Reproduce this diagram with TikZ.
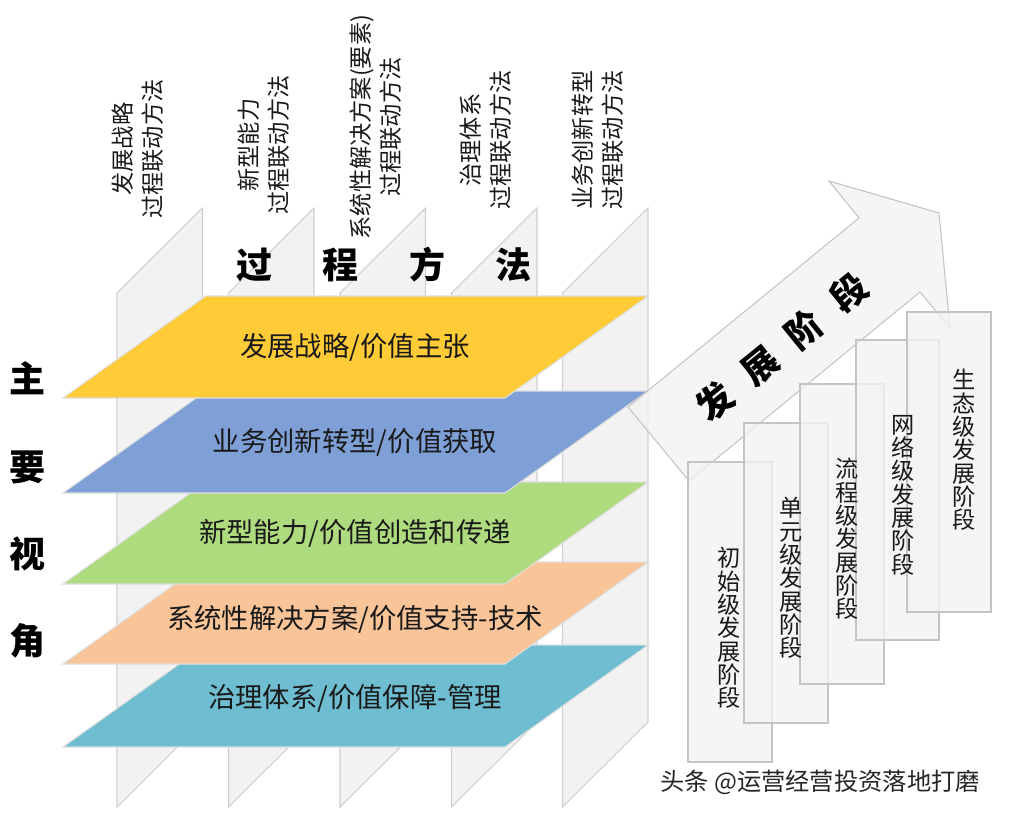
\documentclass[tikz,border=0pt]{standalone}
\usepackage{fontspec}
\setmainfont{Noto Sans CJK SC}
\usetikzlibrary{positioning}

\definecolor{planefill}{HTML}{F2F2F2}
\definecolor{planeline}{HTML}{D0D0D0}
\definecolor{boxline}{HTML}{C4C4C4}
\definecolor{strategyyellow}{HTML}{FFCB36}
\definecolor{businessblue}{HTML}{7FA0D6}
\definecolor{abilitygreen}{HTML}{AEDB7E}
\definecolor{solutionorange}{HTML}{F8C498}
\definecolor{governteal}{HTML}{6EBDD1}

\tikzset{
    plane/.style={draw=planeline, fill=planefill, line width=0.8pt},
    layer/.style={draw=planeline!70, line width=0.8pt},
    layertext/.style={inner sep=0pt, text=black!90, font=\fontsize{20.5}{24}\selectfont},
    columntext/.style={rotate=90, align=center, inner sep=0pt, text=black!90,
        font=\fontsize{17.4}{22.5}\selectfont},
    sidetext/.style={inner sep=0pt, font=\fontsize{27}{30}\selectfont\bfseries},
    stagebox/.style={draw=boxline, fill=planefill, fill opacity=0.8, line width=0.8pt},
    stagetext/.style={align=center, inner sep=0pt, text=black!90,
        font=\fontsize{17.4}{17.5}\selectfont}
}

\begin{document}
\begin{tikzpicture}[x=0.75pt, y=-0.75pt]
    \useasboundingbox (0,0) rectangle (1009,818);

    % process planes
    \draw[plane] (117,807) -- (117,293) -- (202.5,208) -- (202.5,722) -- cycle;
    \draw[plane] (228.5,807) -- (228.5,293) -- (314,208) -- (314,722) -- cycle;
    \draw[plane] (340,807) -- (340,293) -- (425.5,208) -- (425.5,722) -- cycle;
    \draw[plane] (451.5,807) -- (451.5,293) -- (537,208) -- (537,722) -- cycle;
    \draw[plane] (562.5,807) -- (562.5,293) -- (648,208) -- (648,722) -- cycle;

    % view layers, lowest first
    \draw[layer, fill=governteal] (63,747) -- (206,645) -- (648,645) -- (505,747) -- cycle;
    \draw[layer, fill=solutionorange] (63,664) -- (206,562) -- (648,562) -- (505,664) -- cycle;
    \draw[layer, fill=abilitygreen] (63,584) -- (206,482) -- (648,482) -- (505,584) -- cycle;
    \draw[layer, fill=businessblue] (63,493) -- (206,391) -- (648,391) -- (505,493) -- cycle;
    \draw[layer, fill=strategyyellow] (63,398) -- (206,296) -- (648,296) -- (505,398) -- cycle;

    \node[layertext] (strategy) at (355,347) {发展战略/价值主张};
    \node[layertext] (business) at (355,442) {业务创新转型/价值获取};
    \node[layertext] (ability) at (355,533) {新型能力/价值创造和传递};
    \node[layertext] (solution) at (355,619) {系统性解决方案/价值支持-技术};
    \node[layertext] (govern) at (355,698) {治理体系/价值保障-管理};

    % column titles
    \node[columntext] (colstrategy) at (137.5,149) {发展战略\\过程联动方法};
    \node[columntext] (colability) at (263.5,145) {新型能力\\过程联动方法};
    \node[columntext] (colsolution) at (376,127) {系统性解决方案(要素)\\过程联动方法};
    \node[columntext] (colgovern) at (486,140) {治理体系\\过程联动方法};
    \node[columntext] (colbusiness) at (598,140) {业务创新转型\\过程联动方法};

    \node[sidetext] (process) at (384,265)
        {过\hspace{38pt}程\hspace{38pt}方\hspace{38pt}法};

    % main views
    \node[sidetext] (viewa) at (27,378) {主};
    \node[sidetext] (viewb) at (27,467) {要};
    \node[sidetext] (viewc) at (27,554) {视};
    \node[sidetext] (viewd) at (27,641) {角};

    % stage arrow
    \draw[stagebox] (628,407) -- (859,218) -- (829,181) -- (939,213)
        -- (950,328) -- (920,292) -- (689,481) -- cycle;
    \node[sidetext, rotate=39] (stages) at (782,347)
        {发\hspace{16pt}展\hspace{16pt}阶\hspace{16pt}段};

    % stage boxes
    \draw[stagebox] (688,462) rectangle (772,762);
    \draw[stagebox] (744,423) rectangle (828,723);
    \draw[stagebox] (800,384) rectangle (884,684);
    \draw[stagebox] (856,340) rectangle (939,640);
    \draw[stagebox] (907,312) rectangle (991,612);

    \node[stagetext] (initial) at (729,628) {初\\始\\级\\发\\展\\阶\\段};
    \node[stagetext] (unit) at (791,578) {单\\元\\级\\发\\展\\阶\\段};
    \node[stagetext] (flow) at (847,539) {流\\程\\级\\发\\展\\阶\\段};
    \node[stagetext] (network) at (903,495) {网\\络\\级\\发\\展\\阶\\段};
    \node[stagetext] (ecology) at (964,450) {生\\态\\级\\发\\展\\阶\\段};

    \node[inner sep=0pt, text=black!85, font=\fontsize{18.2}{21}\selectfont]
        (mark) at (820,782) {头条 @运营经营投资落地打磨};
\end{tikzpicture}
\end{document}
